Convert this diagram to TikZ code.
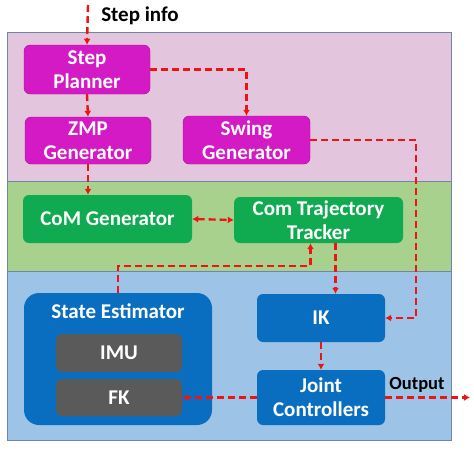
\documentclass[tikz,border=0pt]{standalone}
\usepackage{fontspec}
\setmainfont{Carlito}
\usepackage{xcolor}
\usetikzlibrary{arrows.meta,positioning,calc}
\definecolor{planpanel}{RGB}{227,197,222}
\definecolor{planbox}{RGB}{212,26,196}
\definecolor{companel}{RGB}{169,209,142}
\definecolor{combox}{RGB}{16,170,80}
\definecolor{ctrlpanel}{RGB}{157,195,230}
\definecolor{ctrlbox}{RGB}{10,110,192}
\definecolor{sensbox}{RGB}{90,90,90}
\definecolor{paneledge}{RGB}{112,134,168}
\definecolor{sigred}{RGB}{238,20,20}

\begin{document}
\begin{tikzpicture}[
    x=1pt, y=-1pt,
    panel/.style={rectangle, draw=paneledge, line width=0.8pt, minimum width=444pt, inner sep=0pt},
    box/.style={rectangle, rounded corners=6pt, inner sep=0pt, align=center, text=white,
                font=\fontsize{21}{24}\selectfont\bfseries},
    arrow/.style={sigred, line width=2.4pt, dash pattern=on 7pt off 4pt, -{Latex[length=6pt,width=7pt]}}
]
\useasboundingbox (0,0) rectangle (474,450);

% Panels
\node[panel, fill=planpanel, minimum height=149pt] (plan) at (229,106.5) {};
\node[panel, fill=companel, minimum height=90pt] (com) at (229,226) {};
\node[panel, fill=ctrlpanel, minimum height=169pt] (ctrl) at (229,355.5) {};

% Planning layer
\node[box, fill=planbox, draw=planbox!75!black, minimum width=126pt, minimum height=49pt] (planner) at (87,69.5) {Step\\Planner};
\node[box, fill=planbox, draw=planbox!75!black, minimum width=126pt, minimum height=47pt] (zmp) at (88,140.5) {ZMP\\Generator};
\node[box, fill=planbox, draw=planbox!75!black, minimum width=127pt, minimum height=48pt] (swing) at (246.5,140) {Swing\\Generator};

% CoM layer
\node[box, fill=combox, minimum width=169pt, minimum height=48pt] (comgen) at (107.5,219) {CoM Generator};
\node[box, fill=combox, minimum width=169pt, minimum height=46pt] (tracker) at (318.5,220) {Com Trajectory\\Tracker};

% Control layer
\node[box, fill=ctrlbox, rounded corners=15pt, minimum width=188pt, minimum height=132pt] (est) at (118,359) {};
\node[box] (esttitle) at (118,311) {State Estimator};
\node[box, fill=sensbox, minimum width=126pt, minimum height=38pt] (imu) at (119,353) {IMU};
\node[box, fill=sensbox, minimum width=126pt, minimum height=37pt] (fk) at (119,397.5) {FK};
\node[box, fill=ctrlbox, minimum width=128pt, minimum height=48pt] (ik) at (321,318) {IK};
\node[box, fill=ctrlbox, minimum width=128pt, minimum height=55pt] (joint) at (321,397.5) {Joint\\Controllers};

% Labels
\coordinate (stepin) at (88,5);
\coordinate (output) at (470,397.5);
\node[font=\fontsize{21}{24}\selectfont\bfseries] (steplbl) at (140,16) {Step info};
\node[font=\fontsize{18.5}{21}\selectfont\bfseries] (outlbl) at (417,385) {Output};

% Arrows
\draw[arrow] (stepin) -- (planner.north);
\draw[arrow] (planner.south) -- (zmp.north);
\draw[arrow] (planner.east) -| (swing.north);
\draw[arrow] (zmp.south) -- (zmp.south |- comgen.north);
\draw[arrow, {Latex[length=6pt,width=7pt]}-{Latex[length=6pt,width=7pt]}] (comgen.east) -- (tracker.west);
\draw[arrow] (swing.east) -| ([xshift=31pt]ik.east) -- (ik.east);
\draw[arrow] (est.north) -- ++(0,-27) -| ([xshift=-8pt]tracker.south);
\draw[arrow] ([xshift=17pt]tracker.south) -- ([xshift=17pt]tracker.south |- ik.north);
\draw[arrow] (ik.south) -- (joint.north);
\draw[arrow] (joint.west) -- (fk.east);
\draw[arrow] (joint.east) -- (output);

\end{tikzpicture}
\end{document}
